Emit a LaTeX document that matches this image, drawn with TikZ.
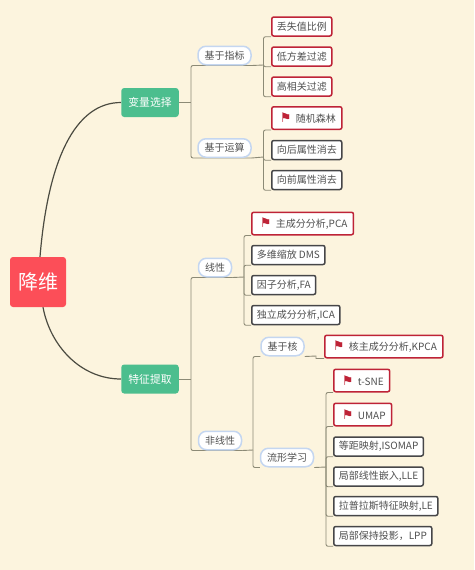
\documentclass[tikz,border=0pt]{standalone}
\usepackage{fontspec}
\setmainfont{Noto Sans CJK SC}
\newfontfamily\flagfont{DejaVu Sans}
\usetikzlibrary{backgrounds}
\definecolor{pagebg}{RGB}{252,244,222}
\definecolor{rootred}{RGB}{252,78,88}
\definecolor{midgreen}{RGB}{76,190,142}
\definecolor{pillblue}{RGB}{196,214,240}
\definecolor{flagred}{RGB}{190,35,55}
\definecolor{leafdark}{RGB}{70,70,72}
\definecolor{linkgrey}{RGB}{140,138,118}
\definecolor{curvedark}{RGB}{75,75,65}
\definecolor{textgrey}{RGB}{80,80,80}
\newcommand{\flagmark}{\hspace{2pt}{\flagfont\fontsize{13}{13}\selectfont\color{flagred}⚑}\hspace{4.5pt}}

\begin{document}
\begin{tikzpicture}[
    x=1pt, y=-1pt,
    rootbox/.style={fill=rootred, rounded corners=3pt, minimum width=56pt, minimum height=50pt, text=white, font=\fontsize{20}{24}\selectfont, inner sep=0pt},
    midbox/.style={fill=midgreen, rounded corners=3pt, minimum width=57.5pt, minimum height=29pt, text=white, font=\fontsize{10.8}{13}\selectfont, inner sep=0pt},
    pillbox/.style={draw=pillblue, line width=1.5pt, fill=white, rounded corners=8pt, minimum height=18.5pt, inner xsep=6.5pt, inner ysep=0pt, text=textgrey, font=\fontsize{10}{12}\selectfont},
    leafbox/.style={draw=leafdark, line width=1.5pt, fill=white, rounded corners=2pt, anchor=west, minimum height=19pt, inner xsep=5pt, inner ysep=0pt, text=textgrey, font=\fontsize{10}{12}\selectfont},
    keybox/.style={leafbox, draw=flagred},
    flagbox/.style={keybox, minimum height=22.5pt, inner xsep=6pt},
    link/.style={draw=linkgrey, line width=0.9pt, rounded corners=2pt},
    curve/.style={draw=curvedark, line width=1.2pt}
]
\useasboundingbox (0,0) rectangle (474,570);

\node[rootbox] (root) at (38,282) {降维};
\node[midbox] (varsel) at (150,102.5) {变量选择};
\node[midbox] (feat) at (150,379) {特征提取};

\node[pillbox] (byindex) at (224.5,55.5) {基于指标};
\node[pillbox] (byop) at (224.5,148) {基于运算};
\node[pillbox] (linear) at (215,267.5) {线性};
\node[pillbox] (nonlinear) at (220,440.5) {非线性};
\node[pillbox] (kernel) at (282.5,346.5) {基于核};
\node[pillbox] (manifold) at (287,457.5) {流形学习};

\node[keybox] (lf1) at (271,26.5) {丢失值比例};
\node[keybox] (lf2) at (271,56.5) {低方差过滤};
\node[keybox] (lf3) at (271,86.5) {高相关过滤};
\node[flagbox] (lf4) at (271,118) {\flagmark 随机森林};
\node[leafbox] (lf5) at (271,150) {向后属性消去};
\node[leafbox] (lf6) at (271,180) {向前属性消去};

\node[flagbox] (ln1) at (251,223.5) {\flagmark 主成分分析,PCA};
\node[leafbox] (ln2) at (251,255) {多维缩放 DMS};
\node[leafbox] (ln3) at (251,285) {因子分析,FA};
\node[leafbox] (ln4) at (251,315) {独立成分分析,ICA};

\node[flagbox] (kn1) at (324,346.5) {\flagmark 核主成分分析,KPCA};

\node[flagbox] (mf1) at (333,380.5) {\flagmark t-SNE};
\node[flagbox] (mf2) at (333,414.5) {\flagmark UMAP};
\node[leafbox] (mf3) at (333,446.5) {等距映射,ISOMAP};
\node[leafbox] (mf4) at (333,476.5) {局部线性嵌入,LLE};
\node[leafbox] (mf5) at (333,506) {拉普拉斯特征映射,LE};
\node[leafbox] (mf6) at (333,536) {局部保持投影，LPP};

\coordinate (tvar) at (191,102.5);
\coordinate (tfeat) at (191,379);
\coordinate (tindex) at (263.5,65);
\coordinate (top) at (263.5,157);
\coordinate (tlin) at (244,277);
\coordinate (tnon) at (253,450);
\coordinate (tman) at (326,467);
\coordinate (tkern) at (316,356);

% connectors stay behind the boxes
\begin{pgfonlayer}{background}
\fill[pagebg] (0,0) rectangle (474,570);

\draw[curve] ([xshift=2pt]root.north) .. controls (48,160) and (75,102.5) .. (varsel.west);
\draw[curve] ([xshift=5pt]root.south) .. controls (50,345) and (80,379) .. (feat.west);

\draw[link] (varsel.east) -- (tvar);
\draw[link] (byindex.south east) -| (tvar);
\draw[link] (byop.south east) -| (tvar);
\draw[link] (feat.east) -- (tfeat);
\draw[link] (linear.south east) -| (tfeat);
\draw[link] (nonlinear.south east) -| (tfeat);

\draw[link] (byindex.south east) -- (tindex);
\draw[link] (lf1.south west) -| (tindex);
\draw[link] (lf2.south west) -| (tindex);
\draw[link] (lf3.south west) -| (tindex);

\draw[link] (byop.south east) -- (top);
\draw[link] (lf4.south west) -| (top);
\draw[link] (lf5.south west) -| (top);
\draw[link] (lf6.south west) -| (top);

\draw[link] (linear.south east) -- (tlin);
\draw[link] (ln1.south west) -| (tlin);
\draw[link] (ln2.south west) -| (tlin);
\draw[link] (ln3.south west) -| (tlin);
\draw[link] (ln4.south west) -| (tlin);

\draw[link] (nonlinear.south east) -- (tnon);
\draw[link] (kernel.south west) -| (tnon);
\draw[link] (manifold.south west) -| (tnon);

\draw[link, rounded corners=0pt] (kernel.south east) -- (tkern) |- (kn1.south west);

\draw[link] (manifold.south east) -- (tman);
\draw[link] (mf1.south west) -| (tman);
\draw[link] (mf2.south west) -| (tman);
\draw[link] (mf3.south west) -| (tman);
\draw[link] (mf4.south west) -| (tman);
\draw[link] (mf5.south west) -| (tman);
\draw[link] (mf6.south west) -| (tman);
\end{pgfonlayer}
\end{tikzpicture}
\end{document}
